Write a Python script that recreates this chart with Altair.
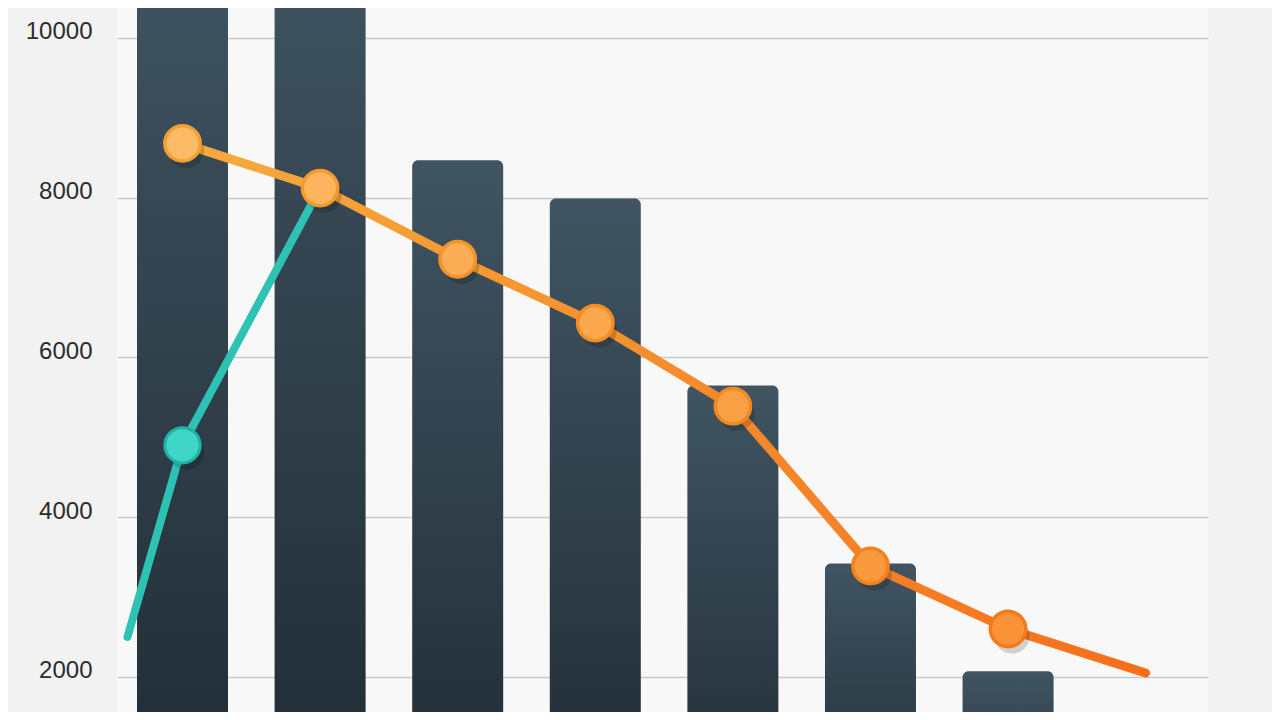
import altair as alt
import pandas as pd

# ---- data ----
bar_index = [0, 1, 2, 3, 4, 5, 6]
bar_values = [11200, 11400, 8470, 7990, 5650, 3420, 2070]

orange_index = [0, 1, 2, 3, 4, 5, 6, 7]
orange_values = [8680, 8120, 7230, 6430, 5390, 3390, 2600, 2050]
orange_marker_count = 7

teal_index = [-0.4, 0, 1]
teal_values = [2500, 4900, 8120]
teal_marker_index = [0]
teal_marker_values = [4900]

y_ticks = [2000, 4000, 6000, 8000, 10000]

bars_df = pd.DataFrame({"x": bar_index, "v": bar_values})
orange_df = pd.DataFrame({"x": orange_index, "v": orange_values})
orange_mk_df = orange_df.iloc[:orange_marker_count]
teal_df = pd.DataFrame({"x": teal_index, "v": teal_values})
teal_mk_df = pd.DataFrame({"x": teal_marker_index, "v": teal_marker_values})

W, H = 1091, 704
xscale = alt.Scale(domain=[-0.476, 7.453], nice=False, zero=False, padding=0)
yscale = alt.Scale(domain=[1561, 10375], nice=False, zero=False, padding=0)

yaxis = alt.Axis(
    values=y_ticks, title=None, domain=False, ticks=False, format="d",
    labelFont="Liberation Sans", labelFontSize=24, labelColor="#2c2c2c",
    labelPadding=25, labelBaseline="alphabetic", labelOffset=1,
    grid=True, gridColor="#c9c9c9", gridWidth=1.5,
)

bar_grad = alt.Gradient(
    gradient="linear", x1=0, y1=0, x2=0, y2=1,
    stops=[alt.GradientStop(offset=0, color="#405462"),
           alt.GradientStop(offset=1, color="#1f2a32")],
)
orange_grad = alt.Gradient(
    gradient="linear", x1=0, y1=0, x2=1, y2=0,
    stops=[alt.GradientStop(offset=0, color="#f7ab3e"),
           alt.GradientStop(offset=1, color="#f56f1c")],
)

X = alt.X("x:Q", scale=xscale, axis=None)
Y = alt.Y("v:Q", scale=yscale, axis=yaxis)

bars = alt.Chart(bars_df).mark_bar(
    size=91, clip=True, cornerRadiusTopLeft=6, cornerRadiusTopRight=6,
    color=bar_grad,
).encode(x=X, y=Y, y2=alt.datum(0))

teal_line = alt.Chart(teal_df).mark_line(
    color="#2ec2b4", strokeWidth=8, strokeCap="round", clip=True,
).encode(x=X, y=Y)

orange_line = alt.Chart(orange_df).mark_line(
    color=orange_grad, strokeWidth=9, strokeCap="round", strokeJoin="round",
).encode(x=X, y=Y)

shadow_o = alt.Chart(orange_mk_df).mark_circle(
    size=1250, color="#000000", opacity=0.16, xOffset=4, yOffset=7,
).encode(x=X, y=Y)
shadow_t = alt.Chart(teal_mk_df).mark_circle(
    size=1250, color="#000000", opacity=0.16, xOffset=4, yOffset=7,
).encode(x=X, y=Y)

teal_mk = alt.Chart(teal_mk_df).mark_point(
    shape="circle", filled=True, size=1250, strokeWidth=3, opacity=1,
    fill="#3fd6c8", stroke="#1fb3a6",
).encode(x=X, y=Y)

orange_mk = alt.Chart(orange_mk_df).mark_point(
    shape="circle", filled=True, size=1250, strokeWidth=3.5, opacity=1,
).encode(
    x=X, y=Y,
    fill=alt.Fill("x:Q", scale=alt.Scale(domain=[0, 6], range=["#fcbb66", "#fa9338"]), legend=None),
    stroke=alt.Stroke("x:Q", scale=alt.Scale(domain=[0, 6], range=["#f4a030", "#f47a1c"]), legend=None),
)

chart = alt.layer(
    bars, teal_line, orange_line, shadow_t, shadow_o, teal_mk, orange_mk
).properties(
    width=W, height=H,
    autosize=alt.AutoSizeParams(type="none"),
    padding={"left": 109, "top": 0, "right": 64, "bottom": 0},
    background="#f2f2f2",
).configure_view(stroke=None, fill="#f8f8f8")

chart.save("out.html", embed_options={"renderer": "svg", "actions": False})
